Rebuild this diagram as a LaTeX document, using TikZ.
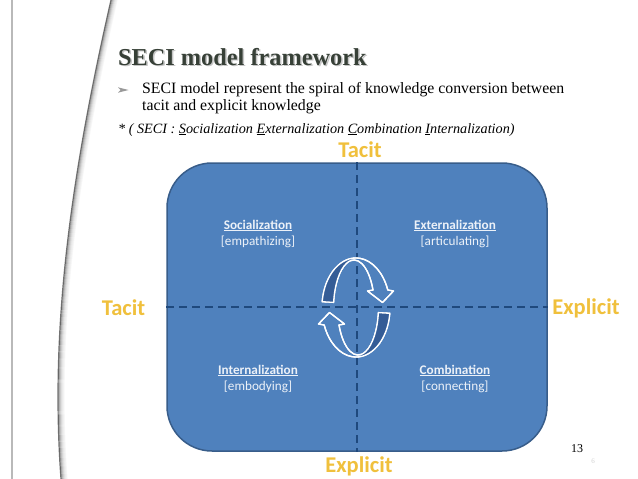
\documentclass[tikz,border=0pt]{standalone}
\usepackage{fontspec}
\setmainfont{Liberation Serif}
\newfontfamily\carl{Carlito}
\definecolor{boxblue}{RGB}{79,129,189}
\definecolor{boxborder}{RGB}{56,93,138}
\definecolor{dashblue}{RGB}{31,73,125}
\definecolor{ribbondark}{RGB}{52,92,150}
\definecolor{axisyellow}{RGB}{240,192,60}
\definecolor{titlegreen}{RGB}{55,64,55}
\definecolor{quadtext}{RGB}{236,241,248}
\tikzset{
  axislabel/.style={text=axisyellow, anchor=base, inner sep=0pt, font=\carl\bfseries\fontsize{22.5}{26}\selectfont},
  quadtitle/.style={text=quadtext, anchor=base, inner sep=0pt, font=\carl\bfseries\fontsize{13.2}{15}\selectfont},
  quadsub/.style={text=quadtext, anchor=base, inner sep=0pt, font=\carl\fontsize{13.2}{15}\selectfont},
  divider/.style={dashblue, line width=1.8pt, dash pattern=on 8pt off 5pt},
  ribbon/.style={fill=boxblue, draw=white, line width=1.3pt, line join=round},
}
\begin{document}
\begin{tikzpicture}[x=1pt, y=-1pt]
\useasboundingbox (0,0) rectangle (638,479);
\fill[white] (0,0) rectangle (638,479);
% page edge decorations
\draw[gray!55, line width=2pt] (12,0) -- (12,479);
\foreach \i/\o in {0/0.55,1/0.30,2/0.20,3/0.13,4/0.08,5/0.05,6/0.03}{
  \begin{scope}[shift={(\i,0)}]
    \draw[black, opacity=\o, line width=1.2pt] (111,0) .. controls (70,180) and (50,330) .. (61,479);
  \end{scope}
}
% title and text
\node[anchor=base west, inner sep=0pt, text=gray!45, font=\bfseries\fontsize{24.3}{29}\selectfont] (titleshadow) at (119.5,66.5) {SECI model framework};
\node[anchor=base west, inner sep=0pt, text=titlegreen, font=\bfseries\fontsize{24.3}{29}\selectfont] (title) at (118,65) {SECI model framework};
\fill[gray!80] (118,87.3) -- (128.5,90) -- (118,92.7) -- (120.5,90) -- cycle;
\node[anchor=base west, inner sep=0pt, font=\fontsize{15.8}{18}\selectfont] (line1) at (142,93) {SECI model represent the spiral of knowledge conversion between};
\node[anchor=base west, inner sep=0pt, font=\fontsize{15.8}{18}\selectfont] (line2) at (142,110) {tacit and explicit knowledge};
\node[anchor=base west, inner sep=0pt, font=\itshape\fontsize{14.2}{16}\selectfont] (line3) at (118,133) {* ( SECI : \underline{S}ocialization \underline{E}xternalization \underline{C}ombination \underline{I}nternalization)};
% main box
\node[draw=boxborder, fill=boxblue, line width=1.5pt, rounded corners=45pt, minimum width=380pt, minimum height=288pt, inner sep=0pt] (box) at (357,307) {};
\draw[divider] (box.north) -- (box.south);
\draw[divider] (box.west) -- (box.east);
% axis labels
\node[axislabel] (tacittop) at (360,157) {Tacit};
\node[axislabel] (tacitleft) at (123.5,315) {Tacit};
\node[axislabel] (explicitright) at (586,314) {Explicit};
\node[axislabel] (explicitbottom) at (359,472) {Explicit};
% quadrant labels
\node[quadtitle] (soc) at (258,229) {\underline{Socialization}};
\node[quadsub] (socsub) at (258,245) {[empathizing]};
\node[quadtitle] (ext) at (455,229) {\underline{Externalization}};
\node[quadsub] (extsub) at (455,245) {[articulating]};
\node[quadtitle] (int) at (258,374) {\underline{Internalization}};
\node[quadsub] (intsub) at (258,390) {[embodying]};
\node[quadtitle] (com) at (455,374) {\underline{Combination}};
\node[quadsub] (comsub) at (455,390) {[connecting]};
% circular arrows
\foreach \r in {0,180}{
\begin{scope}[rotate around={\r:(356,307.5)}]
  \path[ribbon] (322.2,301.7) arc[start angle=186.7, end angle=339.3, x radius=34, y radius=49.5]
     -- (393.5,291) -- (382.5,302.5) -- (367.5,291) -- (373,290)
     arc[start angle=338, end angle=186.7, x radius=20.5, y radius=48] -- cycle;
  \fill[ribbondark] (322.2,301.7) arc[start angle=186.7, end angle=262, x radius=34, y radius=49.5]
     -- (351.1,260.5) arc[start angle=262, end angle=186.7, x radius=20.5, y radius=48] -- cycle;
  \path[ribbon, fill=none] (322.2,301.7) arc[start angle=186.7, end angle=339.3, x radius=34, y radius=49.5]
     -- (393.5,291) -- (382.5,302.5) -- (367.5,291) -- (373,290)
     arc[start angle=338, end angle=186.7, x radius=20.5, y radius=48] -- cycle;
\end{scope}
}
% page numbers
\node[anchor=base west, inner sep=0pt, font=\fontsize{12}{14}\selectfont] (pagenum) at (571,452) {13};
\node[anchor=base, inner sep=0pt, text=gray!35, font=\fontsize{7}{8}\selectfont] (mark) at (593,463) {6};
\end{tikzpicture}
\end{document}
